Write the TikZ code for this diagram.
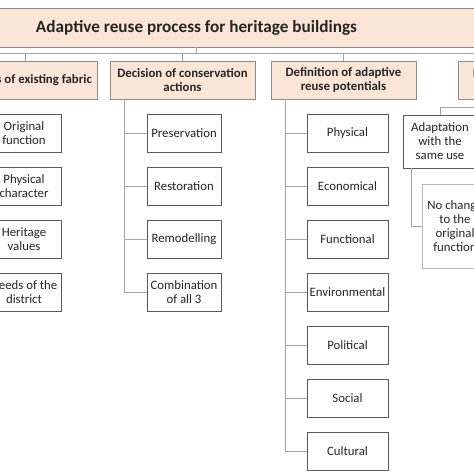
\documentclass[tikz,border=0pt]{standalone}
\usepackage{fontspec}
\setmainfont{Carlito}
\usetikzlibrary{positioning}

\definecolor{peach}{RGB}{251,229,214}
\definecolor{boxline}{RGB}{89,89,89}
\definecolor{headline}{RGB}{140,140,140}
\definecolor{linegray}{RGB}{165,165,165}

\begin{document}
\begin{tikzpicture}[x=1pt,y=-1pt,node distance=53pt,on grid,
    head/.style={draw=headline,fill=peach,line width=0.8pt,minimum width=145pt,minimum height=38pt,
                 align=center,text=black!85,font=\fontsize{12.8}{14.6}\selectfont\bfseries},
    item/.style={draw=boxline,line width=0.8pt,minimum width=74pt,minimum height=38pt,inner sep=1pt,
                 align=center,text=black!85,font=\fontsize{12.8}{14}\selectfont},
    wide/.style={item,minimum width=81pt},
    wire/.style={draw=linegray,line width=0.9pt},
    bus/.style={to path={-- ++(0,#1) -| (\tikztotarget)}},
    bus/.default=6,
    elbow/.style={to path={|- (\tikztotarget)}}]
    \useasboundingbox (0,0) rectangle (474,474);
    \clip (0,0) rectangle (474,474);
    \fill[white] (0,0) rectangle (474,474);

    \node[head,minimum width=620pt,minimum height=39pt,font=\fontsize{17.2}{20}\selectfont\bfseries]
          (top) at (196.5,27.5) {Adaptive reuse process for heritage buildings};

    \node[head]                     (fab) at (25,80)    {Analysis of existing fabric};
    \node[head]                     (dec) at (182.5,80) {Decision of conservation\\actions};
    \node[head]                     (def) at (343.5,80) {Definition of adaptive\\reuse potentials};
    \node[head,minimum width=140pt] (idn) at (528,80)   {Identification of new\\uses};
    \coordinate (lft) at (-40,61);

    \node[item] (fab_1) [below=of fab,xshift=-1pt] {Original\\function};
    \node[item] (fab_2) [below=of fab_1]           {Physical\\character};
    \node[item] (fab_3) [below=of fab_2]           {Heritage\\values};
    \node[item] (fab_4) [below=of fab_3]           {Needs of the\\district};

    \node[item] (dec_1) [below=of dec,xshift=1.5pt] {Preservation};
    \node[item] (dec_2) [below=of dec_1]            {Restoration};
    \node[item] (dec_3) [below=of dec_2]            {Remodelling};
    \node[item] (dec_4) [below=of dec_3]            {Combination\\of all 3};

    \node[wide] (def_1) [below=of def,xshift=4pt] {Physical};
    \node[wide] (def_2) [below=of def_1]          {Economical};
    \node[wide] (def_3) [below=of def_2]          {Functional};
    \node[wide] (def_4) [below=of def_3]          {Environmental};
    \node[wide] (def_5) [below=of def_4]          {Political};
    \node[wide] (def_6) [below=of def_5]          {Social};
    \node[wide] (def_7) [below=of def_6]          {Cultural};

    \node[item,minimum height=53pt] (idn_1) at (440,141.5) {Adaptation\\with the\\same use};
    \node[item,draw=linegray!80,minimum width=66pt,minimum height=84pt]
          (idn_2) at (455,226) {No change\\to the\\original\\function};

    \path[wire] (top.south) edge[bus] (lft) edge[bus] (fab.north) edge[bus] (dec.north)
                            edge[bus] (def.north) edge[bus] (idn.north);
    \path[wire] ([xshift=15pt]fab.south west) edge[elbow] (fab_1.west) edge[elbow] (fab_2.west)
                                              edge[elbow] (fab_3.west) edge[elbow] (fab_4.west);
    \path[wire] ([xshift=15pt]dec.south west) edge[elbow] (dec_1.west) edge[elbow] (dec_2.west)
                                              edge[elbow] (dec_3.west) edge[elbow] (dec_4.west);
    \path[wire] ([xshift=15pt]def.south west) edge[elbow] (def_1.west) edge[elbow] (def_2.west)
                                              edge[elbow] (def_3.west) edge[elbow] (def_4.west)
                                              edge[elbow] (def_5.west) edge[elbow] (def_6.west)
                                              edge[elbow] (def_7.west);
    \path[wire] (idn.south) edge[bus=8] (idn_1.north);
    \path[wire] ([xshift=9pt]idn_1.south west) edge[elbow] (idn_2.west);
\end{tikzpicture}
\end{document}
